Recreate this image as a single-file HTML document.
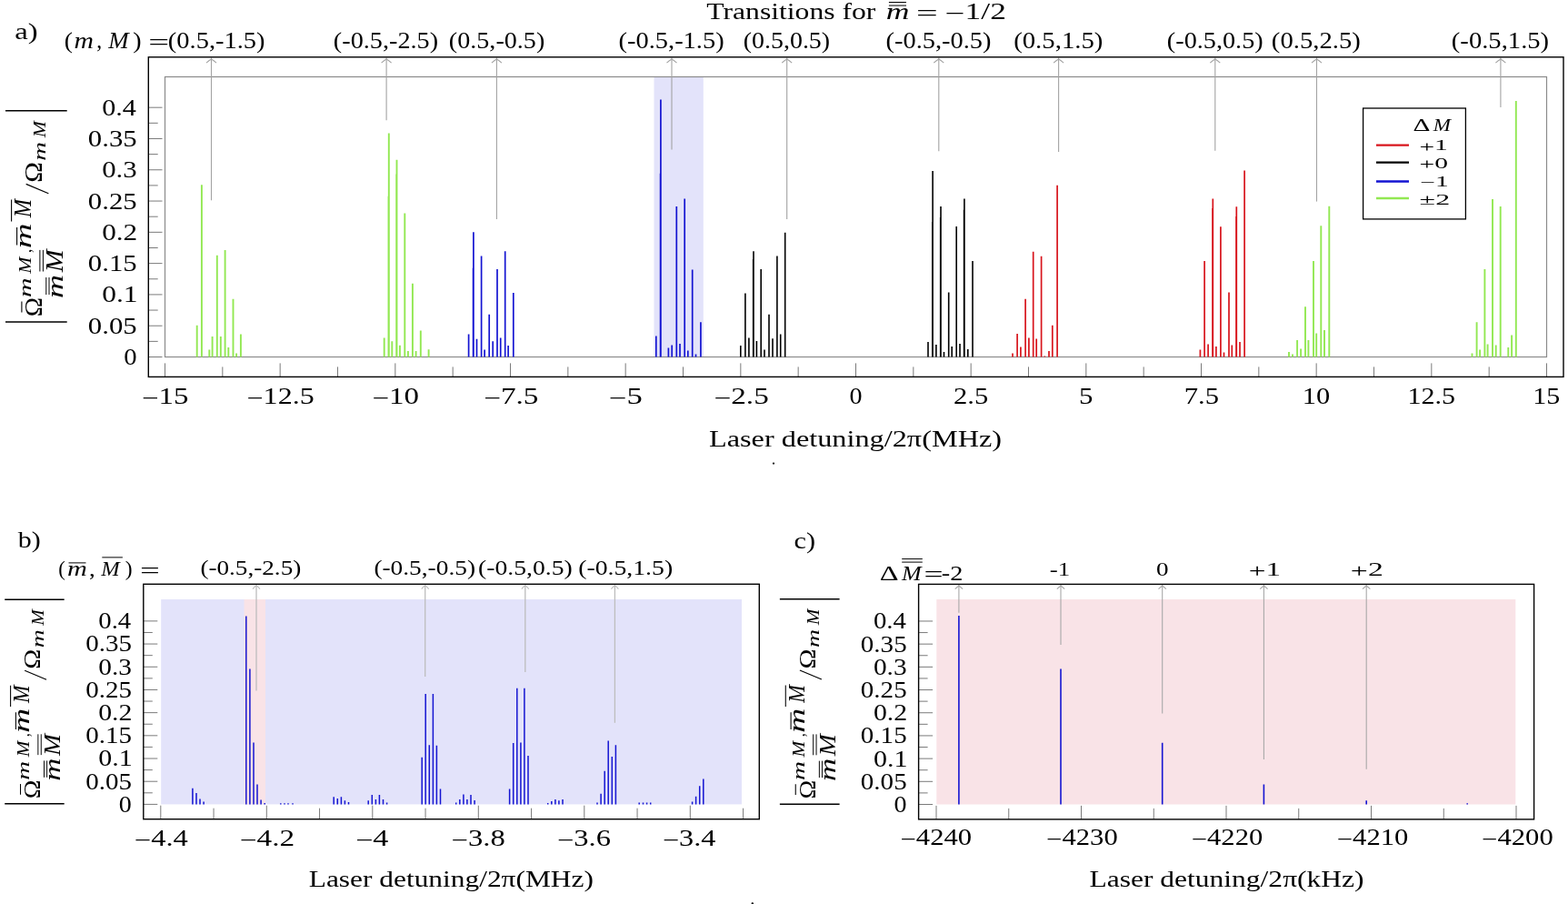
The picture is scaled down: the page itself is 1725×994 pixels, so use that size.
<!DOCTYPE html>
<html><head><meta charset="utf-8"><title>Transitions</title><style>html,body{margin:0;padding:0;background:#fff;overflow:hidden}svg{display:block}text{font-family:"Liberation Serif","DejaVu Serif",serif;fill:#000}</style></head><body>
<svg width="1725" height="994" viewBox="0 0 1725 994">
<rect width="1725" height="994" fill="#fff"/>
<rect x="719.50" y="84.50" width="54.30" height="308.00" fill="#e3e3fa" stroke="none" stroke-width="1.0"/>
<rect x="181.50" y="84.50" width="1520.00" height="308.00" fill="none" stroke="#8a8a8a" stroke-width="1.2"/>
<line x1="163.30" y1="392.50" x2="178.50" y2="392.50" stroke="#7a7a7a" stroke-width="1.0"/>
<line x1="163.30" y1="358.21" x2="178.50" y2="358.21" stroke="#7a7a7a" stroke-width="1.0"/>
<line x1="163.30" y1="323.92" x2="178.50" y2="323.92" stroke="#7a7a7a" stroke-width="1.0"/>
<line x1="163.30" y1="289.63" x2="178.50" y2="289.63" stroke="#7a7a7a" stroke-width="1.0"/>
<line x1="163.30" y1="255.34" x2="178.50" y2="255.34" stroke="#7a7a7a" stroke-width="1.0"/>
<line x1="163.30" y1="221.05" x2="178.50" y2="221.05" stroke="#7a7a7a" stroke-width="1.0"/>
<line x1="163.30" y1="186.76" x2="178.50" y2="186.76" stroke="#7a7a7a" stroke-width="1.0"/>
<line x1="163.30" y1="152.47" x2="178.50" y2="152.47" stroke="#7a7a7a" stroke-width="1.0"/>
<line x1="163.30" y1="118.18" x2="178.50" y2="118.18" stroke="#7a7a7a" stroke-width="1.0"/>
<line x1="163.30" y1="375.36" x2="173.70" y2="375.36" stroke="#7a7a7a" stroke-width="1.0"/>
<line x1="163.30" y1="341.06" x2="173.70" y2="341.06" stroke="#7a7a7a" stroke-width="1.0"/>
<line x1="163.30" y1="306.77" x2="173.70" y2="306.77" stroke="#7a7a7a" stroke-width="1.0"/>
<line x1="163.30" y1="272.49" x2="173.70" y2="272.49" stroke="#7a7a7a" stroke-width="1.0"/>
<line x1="163.30" y1="238.19" x2="173.70" y2="238.19" stroke="#7a7a7a" stroke-width="1.0"/>
<line x1="163.30" y1="203.91" x2="173.70" y2="203.91" stroke="#7a7a7a" stroke-width="1.0"/>
<line x1="163.30" y1="169.61" x2="173.70" y2="169.61" stroke="#7a7a7a" stroke-width="1.0"/>
<line x1="163.30" y1="135.32" x2="173.70" y2="135.32" stroke="#7a7a7a" stroke-width="1.0"/>
<line x1="181.50" y1="414.40" x2="181.50" y2="399.40" stroke="#7a7a7a" stroke-width="1.0"/>
<line x1="308.17" y1="414.40" x2="308.17" y2="399.40" stroke="#7a7a7a" stroke-width="1.0"/>
<line x1="434.84" y1="414.40" x2="434.84" y2="399.40" stroke="#7a7a7a" stroke-width="1.0"/>
<line x1="561.50" y1="414.40" x2="561.50" y2="399.40" stroke="#7a7a7a" stroke-width="1.0"/>
<line x1="688.17" y1="414.40" x2="688.17" y2="399.40" stroke="#7a7a7a" stroke-width="1.0"/>
<line x1="814.84" y1="414.40" x2="814.84" y2="399.40" stroke="#7a7a7a" stroke-width="1.0"/>
<line x1="941.50" y1="414.40" x2="941.50" y2="399.40" stroke="#7a7a7a" stroke-width="1.0"/>
<line x1="1068.17" y1="414.40" x2="1068.17" y2="399.40" stroke="#7a7a7a" stroke-width="1.0"/>
<line x1="1194.84" y1="414.40" x2="1194.84" y2="399.40" stroke="#7a7a7a" stroke-width="1.0"/>
<line x1="1321.51" y1="414.40" x2="1321.51" y2="399.40" stroke="#7a7a7a" stroke-width="1.0"/>
<line x1="1448.17" y1="414.40" x2="1448.17" y2="399.40" stroke="#7a7a7a" stroke-width="1.0"/>
<line x1="1574.84" y1="414.40" x2="1574.84" y2="399.40" stroke="#7a7a7a" stroke-width="1.0"/>
<line x1="1701.51" y1="414.40" x2="1701.51" y2="399.40" stroke="#7a7a7a" stroke-width="1.0"/>
<line x1="244.83" y1="414.40" x2="244.83" y2="403.40" stroke="#7a7a7a" stroke-width="1.0"/>
<line x1="371.50" y1="414.40" x2="371.50" y2="403.40" stroke="#7a7a7a" stroke-width="1.0"/>
<line x1="498.17" y1="414.40" x2="498.17" y2="403.40" stroke="#7a7a7a" stroke-width="1.0"/>
<line x1="624.84" y1="414.40" x2="624.84" y2="403.40" stroke="#7a7a7a" stroke-width="1.0"/>
<line x1="751.50" y1="414.40" x2="751.50" y2="403.40" stroke="#7a7a7a" stroke-width="1.0"/>
<line x1="878.17" y1="414.40" x2="878.17" y2="403.40" stroke="#7a7a7a" stroke-width="1.0"/>
<line x1="1004.84" y1="414.40" x2="1004.84" y2="403.40" stroke="#7a7a7a" stroke-width="1.0"/>
<line x1="1131.51" y1="414.40" x2="1131.51" y2="403.40" stroke="#7a7a7a" stroke-width="1.0"/>
<line x1="1258.17" y1="414.40" x2="1258.17" y2="403.40" stroke="#7a7a7a" stroke-width="1.0"/>
<line x1="1384.84" y1="414.40" x2="1384.84" y2="403.40" stroke="#7a7a7a" stroke-width="1.0"/>
<line x1="1511.51" y1="414.40" x2="1511.51" y2="403.40" stroke="#7a7a7a" stroke-width="1.0"/>
<line x1="1638.18" y1="414.40" x2="1638.18" y2="403.40" stroke="#7a7a7a" stroke-width="1.0"/>
<path d="M216.70 392.50V357.80 M221.90 392.50V203.20 M230.30 392.50V384.40 M233.60 392.50V369.90 M238.80 392.50V280.70 M242.80 392.50V369.90 M247.60 392.50V275.00 M251.30 392.50V382.00 M256.50 392.50V328.80 M260.10 392.50V388.40 M264.90 392.50V367.50 M422.70 392.50V371.60 M427.80 392.50V146.50 M427.50 392.50V215.70 M431.30 392.50V375.20 M436.50 392.50V175.80 M436.20 392.50V191.60 M439.90 392.50V379.70 M445.30 392.50V234.60 M448.90 392.50V386.00 M453.90 392.50V311.80 M457.60 392.50V386.00 M462.80 392.50V363.40 M471.60 392.50V384.30 M1418.00 392.50V387.00 M1422.00 392.50V389.50 M1427.10 392.50V374.00 M1431.10 392.50V383.50 M1436.00 392.50V337.20 M1439.40 392.50V374.00 M1445.00 392.50V287.00 M1448.20 392.50V366.40 M1453.30 392.50V248.30 M1457.00 392.50V362.90 M1462.30 392.50V226.70 M1619.50 392.50V388.50 M1624.60 392.50V354.30 M1628.10 392.50V384.50 M1633.40 392.50V296.00 M1636.60 392.50V378.50 M1642.00 392.50V219.00 M1645.70 392.50V379.50 M1650.70 392.50V227.10 M1659.30 392.50V382.00 M1663.10 392.50V368.40 M1667.80 392.50V110.90" stroke="#92e852" stroke-width="1.9" fill="none"/>
<path d="M515.60 392.50V367.50 M520.90 392.50V255.30 M520.60 392.50V294.70 M524.50 392.50V372.70 M529.60 392.50V281.50 M533.10 392.50V384.40 M538.20 392.50V345.80 M542.20 392.50V375.20 M547.00 392.50V296.00 M550.70 392.50V371.50 M555.70 392.50V276.20 M559.10 392.50V380.00 M564.80 392.50V322.00 M721.80 392.50V369.40 M726.90 392.50V109.60 M726.60 392.50V190.80 M735.40 392.50V382.50 M739.20 392.50V379.50 M744.30 392.50V227.10 M748.00 392.50V378.00 M753.20 392.50V218.60 M756.80 392.50V385.50 M761.70 392.50V296.50 M765.50 392.50V389.50 M770.90 392.50V354.30" stroke="#1414d2" stroke-width="1.7" fill="none"/>
<path d="M814.80 392.50V380.00 M819.90 392.50V322.40 M823.90 392.50V371.50 M829.00 392.50V276.20 M828.70 392.50V285.00 M832.40 392.50V375.10 M837.20 392.50V295.90 M841.00 392.50V384.40 M846.00 392.50V345.70 M850.00 392.50V372.30 M854.90 392.50V281.40 M858.70 392.50V367.50 M863.70 392.50V255.70 M1021.00 392.50V376.00 M1026.10 392.50V187.90 M1025.80 392.50V244.00 M1029.90 392.50V379.00 M1035.00 392.50V227.10 M1034.70 392.50V239.00 M1038.50 392.50V387.00 M1043.70 392.50V321.60 M1047.20 392.50V381.00 M1052.20 392.50V249.10 M1056.00 392.50V378.00 M1060.90 392.50V218.60 M1060.60 392.50V230.70 M1064.80 392.50V384.00 M1070.00 392.50V286.90" stroke="#000" stroke-width="1.6" fill="none"/>
<path d="M1114.00 392.50V388.50 M1119.10 392.50V366.90 M1122.90 392.50V381.50 M1128.10 392.50V328.70 M1131.90 392.50V371.40 M1136.70 392.50V276.80 M1140.20 392.50V372.40 M1145.60 392.50V281.80 M1149.30 392.50V391.50 M1154.00 392.50V386.00 M1157.80 392.50V357.80 M1163.10 392.50V203.80 M1320.40 392.50V384.50 M1325.10 392.50V287.00 M1329.10 392.50V378.50 M1334.30 392.50V218.60 M1334.00 392.50V229.00 M1337.90 392.50V381.00 M1342.90 392.50V249.30 M1346.50 392.50V387.50 M1352.00 392.50V321.60 M1355.30 392.50V379.50 M1360.30 392.50V227.20 M1360.00 392.50V238.00 M1364.00 392.50V376.00 M1369.10 392.50V187.40" stroke="#d8141c" stroke-width="1.7" fill="none"/>
<path d="M232.50 220.30V63.40" stroke="#a3a3a3" stroke-width="1.1" fill="none"/>
<path d="M227.00 69.10Q230.57 65.74 232.50 64.90Q234.43 65.74 238.00 69.10" stroke="#a3a3a3" stroke-width="1.1" fill="none"/>
<path d="M425.10 132.20V63.40" stroke="#a3a3a3" stroke-width="1.1" fill="none"/>
<path d="M419.60 69.10Q423.18 65.74 425.10 64.90Q427.03 65.74 430.60 69.10" stroke="#a3a3a3" stroke-width="1.1" fill="none"/>
<path d="M546.40 241.00V63.40" stroke="#a3a3a3" stroke-width="1.1" fill="none"/>
<path d="M540.90 69.10Q544.48 65.74 546.40 64.90Q548.32 65.74 551.90 69.10" stroke="#a3a3a3" stroke-width="1.1" fill="none"/>
<path d="M739.00 164.50V63.40" stroke="#a3a3a3" stroke-width="1.1" fill="none"/>
<path d="M733.50 69.10Q737.08 65.74 739.00 64.90Q740.92 65.74 744.50 69.10" stroke="#a3a3a3" stroke-width="1.1" fill="none"/>
<path d="M865.70 241.00V63.40" stroke="#a3a3a3" stroke-width="1.1" fill="none"/>
<path d="M860.20 69.10Q863.78 65.74 865.70 64.90Q867.62 65.74 871.20 69.10" stroke="#a3a3a3" stroke-width="1.1" fill="none"/>
<path d="M1032.80 166.30V63.40" stroke="#a3a3a3" stroke-width="1.1" fill="none"/>
<path d="M1027.30 69.10Q1030.88 65.74 1032.80 64.90Q1034.72 65.74 1038.30 69.10" stroke="#a3a3a3" stroke-width="1.1" fill="none"/>
<path d="M1164.60 167.00V63.40" stroke="#a3a3a3" stroke-width="1.1" fill="none"/>
<path d="M1159.10 69.10Q1162.67 65.74 1164.60 64.90Q1166.52 65.74 1170.10 69.10" stroke="#a3a3a3" stroke-width="1.1" fill="none"/>
<path d="M1336.80 165.80V63.40" stroke="#a3a3a3" stroke-width="1.1" fill="none"/>
<path d="M1331.30 69.10Q1334.88 65.74 1336.80 64.90Q1338.72 65.74 1342.30 69.10" stroke="#a3a3a3" stroke-width="1.1" fill="none"/>
<path d="M1448.50 221.60V63.40" stroke="#a3a3a3" stroke-width="1.1" fill="none"/>
<path d="M1443.00 69.10Q1446.58 65.74 1448.50 64.90Q1450.42 65.74 1454.00 69.10" stroke="#a3a3a3" stroke-width="1.1" fill="none"/>
<path d="M1650.90 118.10V63.40" stroke="#a3a3a3" stroke-width="1.1" fill="none"/>
<path d="M1645.40 69.10Q1648.98 65.74 1650.90 64.90Q1652.83 65.74 1656.40 69.10" stroke="#a3a3a3" stroke-width="1.1" fill="none"/>
<rect x="163.30" y="62.80" width="1556.70" height="351.60" fill="none" stroke="#000" stroke-width="1.4"/>
<rect x="1499.60" y="119.00" width="112.80" height="121.90" fill="#fff" stroke="#000" stroke-width="1.3"/>
<line x1="1514.00" y1="159.60" x2="1550.00" y2="159.60" stroke="#d8141c" stroke-width="2.3"/>
<line x1="1514.00" y1="178.60" x2="1550.00" y2="178.60" stroke="#000" stroke-width="2.3"/>
<line x1="1514.00" y1="199.50" x2="1550.00" y2="199.50" stroke="#1414d2" stroke-width="2.3"/>
<line x1="1514.00" y1="218.00" x2="1550.00" y2="218.00" stroke="#92e852" stroke-width="2.3"/>
<text x="1554.64" y="144.30" font-size="19.40" textLength="19.00" lengthAdjust="spacingAndGlyphs">Δ</text>
<text x="1576.88" y="144.30" font-size="19.40" textLength="19.24" lengthAdjust="spacingAndGlyphs" font-style="italic">M</text>
<text x="1561.48" y="165.20" font-size="15.80" textLength="31.39" lengthAdjust="spacingAndGlyphs"><tspan dy="1.30">+</tspan><tspan dy="-1.30">1</tspan></text>
<text x="1561.48" y="184.70" font-size="15.80" textLength="31.49" lengthAdjust="spacingAndGlyphs"><tspan dy="1.30">+</tspan><tspan dy="-1.30">0</tspan></text>
<text x="1562.28" y="204.70" font-size="15.80" textLength="31.39" lengthAdjust="spacingAndGlyphs"><tspan dy="1.30">−</tspan><tspan dy="-1.30">1</tspan></text>
<text x="1561.62" y="224.80" font-size="15.80" textLength="33.54" lengthAdjust="spacingAndGlyphs">±2</text>
<text x="777.29" y="21.30" font-size="25.20" textLength="186.06" lengthAdjust="spacingAndGlyphs">Transitions for</text>
<text x="974.72" y="21.20" font-size="25.20" textLength="25.74" lengthAdjust="spacingAndGlyphs" font-style="italic">m</text>
<line x1="977.90" y1="2.50" x2="997.00" y2="2.50" stroke="#000" stroke-width="1.0"/>
<line x1="977.90" y1="6.10" x2="997.00" y2="6.10" stroke="#000" stroke-width="1.0"/>
<text x="1007.98" y="21.20" font-size="25.20" textLength="23.74" lengthAdjust="spacingAndGlyphs"><tspan dy="2.07">=</tspan></text>
<text x="1039.63" y="21.20" font-size="25.20" textLength="21.93" lengthAdjust="spacingAndGlyphs"><tspan dy="2.07">−</tspan></text>
<text x="1061.63" y="21.20" font-size="25.20" textLength="45.21" lengthAdjust="spacingAndGlyphs">1/2</text>
<text x="16.15" y="43.00" font-size="25.00" textLength="25.39" lengthAdjust="spacingAndGlyphs">a)</text>
<text x="70.89" y="52.80" font-size="24.50" textLength="9.21" lengthAdjust="spacingAndGlyphs">(</text>
<text x="81.43" y="52.80" font-size="24.50" textLength="21.51" lengthAdjust="spacingAndGlyphs" font-style="italic">m</text>
<text x="106.15" y="52.80" font-size="24.50" textLength="5.92" lengthAdjust="spacingAndGlyphs">,</text>
<text x="119.32" y="52.80" font-size="24.50" textLength="22.41" lengthAdjust="spacingAndGlyphs" font-style="italic">M</text>
<text x="146.30" y="52.80" font-size="24.50" textLength="9.35" lengthAdjust="spacingAndGlyphs">)</text>
<text x="163.35" y="52.80" font-size="24.50" textLength="22.90" lengthAdjust="spacingAndGlyphs"><tspan dy="2.01">=</tspan></text>
<text x="184.86" y="52.80" font-size="24.50" textLength="106.71" lengthAdjust="spacingAndGlyphs">(0.5,-1.5)</text>
<text x="366.87" y="52.80" font-size="24.50" textLength="115.29" lengthAdjust="spacingAndGlyphs">(-0.5,-2.5)</text>
<text x="493.88" y="52.80" font-size="24.50" textLength="105.38" lengthAdjust="spacingAndGlyphs">(0.5,-0.5)</text>
<text x="680.56" y="52.80" font-size="24.50" textLength="116.10" lengthAdjust="spacingAndGlyphs">(-0.5,-1.5)</text>
<text x="817.78" y="52.80" font-size="24.50" textLength="95.36" lengthAdjust="spacingAndGlyphs">(0.5,0.5)</text>
<text x="974.56" y="52.80" font-size="24.50" textLength="116.00" lengthAdjust="spacingAndGlyphs">(-0.5,-0.5)</text>
<text x="1115.15" y="52.80" font-size="24.50" textLength="98.33" lengthAdjust="spacingAndGlyphs">(0.5,1.5)</text>
<text x="1283.87" y="52.80" font-size="24.50" textLength="105.79" lengthAdjust="spacingAndGlyphs">(-0.5,0.5)</text>
<text x="1398.85" y="52.80" font-size="24.50" textLength="97.92" lengthAdjust="spacingAndGlyphs">(0.5,2.5)</text>
<text x="1596.85" y="52.80" font-size="24.50" textLength="107.32" lengthAdjust="spacingAndGlyphs">(-0.5,1.5)</text>
<text x="155.92" y="444.30" font-size="25.00" textLength="51.46" lengthAdjust="spacingAndGlyphs"><tspan dy="2.05">−</tspan><tspan dy="-2.05">15</tspan></text>
<text x="271.56" y="444.30" font-size="25.00" textLength="74.09" lengthAdjust="spacingAndGlyphs"><tspan dy="2.05">−</tspan><tspan dy="-2.05">12.5</tspan></text>
<text x="409.42" y="444.30" font-size="25.00" textLength="51.57" lengthAdjust="spacingAndGlyphs"><tspan dy="2.05">−</tspan><tspan dy="-2.05">10</tspan></text>
<text x="532.20" y="444.30" font-size="25.00" textLength="60.29" lengthAdjust="spacingAndGlyphs"><tspan dy="2.05">−</tspan><tspan dy="-2.05">7.5</tspan></text>
<text x="669.83" y="444.30" font-size="25.00" textLength="36.91" lengthAdjust="spacingAndGlyphs"><tspan dy="2.05">−</tspan><tspan dy="-2.05">5</tspan></text>
<text x="785.50" y="444.30" font-size="25.00" textLength="60.29" lengthAdjust="spacingAndGlyphs"><tspan dy="2.05">−</tspan><tspan dy="-2.05">2.5</tspan></text>
<text x="934.49" y="444.30" font-size="25.00" textLength="14.02" lengthAdjust="spacingAndGlyphs">0</text>
<text x="1048.98" y="444.30" font-size="25.00" textLength="38.22" lengthAdjust="spacingAndGlyphs">2.5</text>
<text x="1187.07" y="444.30" font-size="25.00" textLength="15.44" lengthAdjust="spacingAndGlyphs">5</text>
<text x="1302.74" y="444.30" font-size="25.00" textLength="38.26" lengthAdjust="spacingAndGlyphs">7.5</text>
<text x="1432.74" y="444.30" font-size="25.00" textLength="30.45" lengthAdjust="spacingAndGlyphs">10</text>
<text x="1548.58" y="444.30" font-size="25.00" textLength="52.50" lengthAdjust="spacingAndGlyphs">12.5</text>
<text x="1686.28" y="444.30" font-size="25.00" textLength="30.00" lengthAdjust="spacingAndGlyphs">15</text>
<text x="136.27" y="401.00" font-size="24.30" textLength="14.37" lengthAdjust="spacingAndGlyphs">0</text>
<text x="96.89" y="366.71" font-size="24.30" textLength="53.81" lengthAdjust="spacingAndGlyphs">0.05</text>
<text x="112.17" y="332.42" font-size="24.30" textLength="39.32" lengthAdjust="spacingAndGlyphs">0.1</text>
<text x="96.89" y="298.13" font-size="24.30" textLength="53.81" lengthAdjust="spacingAndGlyphs">0.15</text>
<text x="112.18" y="263.84" font-size="24.30" textLength="39.05" lengthAdjust="spacingAndGlyphs">0.2</text>
<text x="96.89" y="229.55" font-size="24.30" textLength="53.81" lengthAdjust="spacingAndGlyphs">0.25</text>
<text x="112.19" y="195.26" font-size="24.30" textLength="38.52" lengthAdjust="spacingAndGlyphs">0.3</text>
<text x="96.89" y="160.97" font-size="24.30" textLength="53.81" lengthAdjust="spacingAndGlyphs">0.35</text>
<text x="112.21" y="126.68" font-size="24.30" textLength="37.75" lengthAdjust="spacingAndGlyphs">0.4</text>
<text x="780.00" y="491.20" font-size="24.80" textLength="322.03" lengthAdjust="spacingAndGlyphs">Laser detuning/2π(MHz)</text>
<circle cx="851" cy="509.6" r="1.1" fill="#000"/>
<g transform="translate(46.00,354.00) rotate(-90) scale(1.0000)">
<line x1="0.00" y1="-40.00" x2="0.00" y2="27.70" stroke="#000" stroke-width="1.4"/>
<line x1="232.20" y1="-40.00" x2="232.20" y2="27.70" stroke="#000" stroke-width="1.4"/>
<text x="5.82" y="0.00" font-size="26.50" textLength="21.35" lengthAdjust="spacingAndGlyphs">Ω</text>
<line x1="10.40" y1="-22.10" x2="22.50" y2="-22.10" stroke="#000" stroke-width="1.1"/>
<text x="27.02" y="-12.30" font-size="18.70" textLength="21.62" lengthAdjust="spacingAndGlyphs" font-style="italic">m</text>
<text x="53.26" y="-12.30" font-size="19.00" textLength="18.21" lengthAdjust="spacingAndGlyphs" font-style="italic">M</text>
<text x="76.08" y="-12.30" font-size="19.00" textLength="4.28" lengthAdjust="spacingAndGlyphs">,</text>
<text x="80.81" y="-12.30" font-size="25.40" textLength="27.86" lengthAdjust="spacingAndGlyphs" font-style="italic">m</text>
<line x1="84.60" y1="-27.40" x2="104.00" y2="-27.40" stroke="#000" stroke-width="1.1"/>
<text x="114.69" y="-12.30" font-size="27.00" textLength="20.26" lengthAdjust="spacingAndGlyphs" font-style="italic">M</text>
<line x1="110.40" y1="-33.40" x2="134.50" y2="-33.40" stroke="#000" stroke-width="1.1"/>
<text x="26.00" y="23.00" font-size="25.00" textLength="26.08" lengthAdjust="spacingAndGlyphs" font-style="italic">m</text>
<line x1="30.00" y1="4.80" x2="49.00" y2="4.80" stroke="#000" stroke-width="1.0"/>
<line x1="30.00" y1="8.00" x2="49.00" y2="8.00" stroke="#000" stroke-width="1.0"/>
<text x="54.66" y="23.00" font-size="27.00" textLength="24.84" lengthAdjust="spacingAndGlyphs" font-style="italic">M</text>
<line x1="55.50" y1="-2.10" x2="79.10" y2="-2.10" stroke="#000" stroke-width="1.0"/>
<line x1="55.50" y1="1.40" x2="79.10" y2="1.40" stroke="#000" stroke-width="1.0"/>
<line x1="141.30" y1="7.40" x2="151.60" y2="-17.30" stroke="#000" stroke-width="1.2"/>
<text x="153.23" y="0.00" font-size="26.50" textLength="22.73" lengthAdjust="spacingAndGlyphs">Ω</text>
<text x="177.37" y="4.00" font-size="19.00" textLength="20.73" lengthAdjust="spacingAndGlyphs" font-style="italic">m</text>
<text x="202.86" y="4.00" font-size="19.00" textLength="18.12" lengthAdjust="spacingAndGlyphs" font-style="italic">M</text>
</g>
<g transform="translate(43.90,883.80) rotate(-90) scale(0.9670)">
<line x1="0.00" y1="-40.00" x2="0.00" y2="27.70" stroke="#000" stroke-width="1.4"/>
<line x1="232.20" y1="-40.00" x2="232.20" y2="27.70" stroke="#000" stroke-width="1.4"/>
<text x="5.82" y="0.00" font-size="26.50" textLength="21.35" lengthAdjust="spacingAndGlyphs">Ω</text>
<line x1="10.40" y1="-22.10" x2="22.50" y2="-22.10" stroke="#000" stroke-width="1.1"/>
<text x="27.02" y="-12.30" font-size="18.70" textLength="21.62" lengthAdjust="spacingAndGlyphs" font-style="italic">m</text>
<text x="53.26" y="-12.30" font-size="19.00" textLength="18.21" lengthAdjust="spacingAndGlyphs" font-style="italic">M</text>
<text x="76.08" y="-12.30" font-size="19.00" textLength="4.28" lengthAdjust="spacingAndGlyphs">,</text>
<text x="80.81" y="-12.30" font-size="25.40" textLength="27.86" lengthAdjust="spacingAndGlyphs" font-style="italic">m</text>
<line x1="84.60" y1="-27.40" x2="104.00" y2="-27.40" stroke="#000" stroke-width="1.1"/>
<text x="114.69" y="-12.30" font-size="27.00" textLength="20.26" lengthAdjust="spacingAndGlyphs" font-style="italic">M</text>
<line x1="110.40" y1="-33.40" x2="134.50" y2="-33.40" stroke="#000" stroke-width="1.1"/>
<text x="26.00" y="23.00" font-size="25.00" textLength="26.08" lengthAdjust="spacingAndGlyphs" font-style="italic">m</text>
<line x1="30.00" y1="4.80" x2="49.00" y2="4.80" stroke="#000" stroke-width="1.0"/>
<line x1="30.00" y1="8.00" x2="49.00" y2="8.00" stroke="#000" stroke-width="1.0"/>
<text x="54.66" y="23.00" font-size="27.00" textLength="24.84" lengthAdjust="spacingAndGlyphs" font-style="italic">M</text>
<line x1="55.50" y1="-2.10" x2="79.10" y2="-2.10" stroke="#000" stroke-width="1.0"/>
<line x1="55.50" y1="1.40" x2="79.10" y2="1.40" stroke="#000" stroke-width="1.0"/>
<line x1="141.30" y1="7.40" x2="151.60" y2="-17.30" stroke="#000" stroke-width="1.2"/>
<text x="153.23" y="0.00" font-size="26.50" textLength="22.73" lengthAdjust="spacingAndGlyphs">Ω</text>
<text x="177.37" y="4.00" font-size="19.00" textLength="20.73" lengthAdjust="spacingAndGlyphs" font-style="italic">m</text>
<text x="202.86" y="4.00" font-size="19.00" textLength="18.12" lengthAdjust="spacingAndGlyphs" font-style="italic">M</text>
</g>
<g transform="translate(896.70,884.20) rotate(-90) scale(0.9710)">
<line x1="0.00" y1="-40.00" x2="0.00" y2="27.70" stroke="#000" stroke-width="1.4"/>
<line x1="232.20" y1="-40.00" x2="232.20" y2="27.70" stroke="#000" stroke-width="1.4"/>
<text x="5.82" y="0.00" font-size="26.50" textLength="21.35" lengthAdjust="spacingAndGlyphs">Ω</text>
<line x1="10.40" y1="-22.10" x2="22.50" y2="-22.10" stroke="#000" stroke-width="1.1"/>
<text x="27.02" y="-12.30" font-size="18.70" textLength="21.62" lengthAdjust="spacingAndGlyphs" font-style="italic">m</text>
<text x="53.26" y="-12.30" font-size="19.00" textLength="18.21" lengthAdjust="spacingAndGlyphs" font-style="italic">M</text>
<text x="76.08" y="-12.30" font-size="19.00" textLength="4.28" lengthAdjust="spacingAndGlyphs">,</text>
<text x="80.81" y="-12.30" font-size="25.40" textLength="27.86" lengthAdjust="spacingAndGlyphs" font-style="italic">m</text>
<line x1="84.60" y1="-27.40" x2="104.00" y2="-27.40" stroke="#000" stroke-width="1.1"/>
<text x="114.69" y="-12.30" font-size="27.00" textLength="20.26" lengthAdjust="spacingAndGlyphs" font-style="italic">M</text>
<line x1="110.40" y1="-33.40" x2="134.50" y2="-33.40" stroke="#000" stroke-width="1.1"/>
<text x="26.00" y="23.00" font-size="25.00" textLength="26.08" lengthAdjust="spacingAndGlyphs" font-style="italic">m</text>
<line x1="30.00" y1="4.80" x2="49.00" y2="4.80" stroke="#000" stroke-width="1.0"/>
<line x1="30.00" y1="8.00" x2="49.00" y2="8.00" stroke="#000" stroke-width="1.0"/>
<text x="54.66" y="23.00" font-size="27.00" textLength="24.84" lengthAdjust="spacingAndGlyphs" font-style="italic">M</text>
<line x1="55.50" y1="-2.10" x2="79.10" y2="-2.10" stroke="#000" stroke-width="1.0"/>
<line x1="55.50" y1="1.40" x2="79.10" y2="1.40" stroke="#000" stroke-width="1.0"/>
<line x1="141.30" y1="7.40" x2="151.60" y2="-17.30" stroke="#000" stroke-width="1.2"/>
<text x="153.23" y="0.00" font-size="26.50" textLength="22.73" lengthAdjust="spacingAndGlyphs">Ω</text>
<text x="177.37" y="4.00" font-size="19.00" textLength="20.73" lengthAdjust="spacingAndGlyphs" font-style="italic">m</text>
<text x="202.86" y="4.00" font-size="19.00" textLength="18.12" lengthAdjust="spacingAndGlyphs" font-style="italic">M</text>
</g>
<rect x="177.20" y="659.00" width="638.80" height="225.40" fill="#e3e3fa" stroke="none" stroke-width="1.0"/>
<rect x="268.50" y="659.00" width="23.50" height="225.40" fill="#f9e3e7" stroke="none" stroke-width="1.0"/>
<line x1="157.80" y1="884.40" x2="173.30" y2="884.40" stroke="#7a7a7a" stroke-width="1.0"/>
<line x1="157.80" y1="859.21" x2="173.30" y2="859.21" stroke="#7a7a7a" stroke-width="1.0"/>
<line x1="157.80" y1="834.02" x2="173.30" y2="834.02" stroke="#7a7a7a" stroke-width="1.0"/>
<line x1="157.80" y1="808.83" x2="173.30" y2="808.83" stroke="#7a7a7a" stroke-width="1.0"/>
<line x1="157.80" y1="783.64" x2="173.30" y2="783.64" stroke="#7a7a7a" stroke-width="1.0"/>
<line x1="157.80" y1="758.45" x2="173.30" y2="758.45" stroke="#7a7a7a" stroke-width="1.0"/>
<line x1="157.80" y1="733.26" x2="173.30" y2="733.26" stroke="#7a7a7a" stroke-width="1.0"/>
<line x1="157.80" y1="708.07" x2="173.30" y2="708.07" stroke="#7a7a7a" stroke-width="1.0"/>
<line x1="157.80" y1="682.88" x2="173.30" y2="682.88" stroke="#7a7a7a" stroke-width="1.0"/>
<line x1="157.80" y1="871.80" x2="167.80" y2="871.80" stroke="#7a7a7a" stroke-width="1.0"/>
<line x1="157.80" y1="846.62" x2="167.80" y2="846.62" stroke="#7a7a7a" stroke-width="1.0"/>
<line x1="157.80" y1="821.42" x2="167.80" y2="821.42" stroke="#7a7a7a" stroke-width="1.0"/>
<line x1="157.80" y1="796.24" x2="167.80" y2="796.24" stroke="#7a7a7a" stroke-width="1.0"/>
<line x1="157.80" y1="771.04" x2="167.80" y2="771.04" stroke="#7a7a7a" stroke-width="1.0"/>
<line x1="157.80" y1="745.86" x2="167.80" y2="745.86" stroke="#7a7a7a" stroke-width="1.0"/>
<line x1="157.80" y1="720.66" x2="167.80" y2="720.66" stroke="#7a7a7a" stroke-width="1.0"/>
<line x1="157.80" y1="695.47" x2="167.80" y2="695.47" stroke="#7a7a7a" stroke-width="1.0"/>
<line x1="176.80" y1="900.70" x2="176.80" y2="885.70" stroke="#7a7a7a" stroke-width="1.0"/>
<line x1="235.05" y1="900.70" x2="235.05" y2="888.70" stroke="#7a7a7a" stroke-width="1.0"/>
<line x1="293.30" y1="900.70" x2="293.30" y2="885.70" stroke="#7a7a7a" stroke-width="1.0"/>
<line x1="351.55" y1="900.70" x2="351.55" y2="888.70" stroke="#7a7a7a" stroke-width="1.0"/>
<line x1="409.80" y1="900.70" x2="409.80" y2="885.70" stroke="#7a7a7a" stroke-width="1.0"/>
<line x1="468.05" y1="900.70" x2="468.05" y2="888.70" stroke="#7a7a7a" stroke-width="1.0"/>
<line x1="526.30" y1="900.70" x2="526.30" y2="885.70" stroke="#7a7a7a" stroke-width="1.0"/>
<line x1="584.55" y1="900.70" x2="584.55" y2="888.70" stroke="#7a7a7a" stroke-width="1.0"/>
<line x1="642.80" y1="900.70" x2="642.80" y2="885.70" stroke="#7a7a7a" stroke-width="1.0"/>
<line x1="701.05" y1="900.70" x2="701.05" y2="888.70" stroke="#7a7a7a" stroke-width="1.0"/>
<line x1="759.30" y1="900.70" x2="759.30" y2="885.70" stroke="#7a7a7a" stroke-width="1.0"/>
<line x1="817.55" y1="900.70" x2="817.55" y2="888.70" stroke="#7a7a7a" stroke-width="1.0"/>
<path d="M211.90 884.40V866.70 M216.00 884.40V872.10 M220.00 884.40V878.40 M224.10 884.40V881.60 M270.80 884.40V677.50 M274.90 884.40V735.60 M279.00 884.40V816.50 M283.00 884.40V862.60 M287.10 884.40V879.50 M291.20 884.40V883.00 M308.80 884.40V883.20 M313.00 884.40V883.20 M317.00 884.40V883.20 M322.00 884.40V883.20 M367.20 884.40V876.20 M371.30 884.40V878.10 M375.40 884.40V876.20 M379.40 884.40V880.30 M383.50 884.40V882.00 M405.20 884.40V880.30 M409.30 884.40V874.00 M413.40 884.40V879.00 M417.40 884.40V874.00 M421.50 884.40V879.00 M425.60 884.40V882.50 M464.20 884.40V832.80 M468.20 884.40V763.00 M472.30 884.40V819.20 M476.40 884.40V763.00 M480.40 884.40V819.70 M484.50 884.40V867.50 M501.70 884.40V882.50 M505.80 884.40V879.00 M509.90 884.40V873.50 M513.90 884.40V879.00 M518.00 884.40V874.00 M522.10 884.40V880.00 M560.60 884.40V867.50 M564.70 884.40V817.00 M568.80 884.40V756.80 M572.90 884.40V816.50 M576.90 884.40V756.80 M581.00 884.40V830.90 M602.70 884.40V883.00 M606.80 884.40V881.10 M610.90 884.40V879.00 M614.90 884.40V880.30 M619.00 884.40V879.00 M657.00 884.40V882.50 M661.10 884.40V872.70 M665.20 884.40V847.70 M669.20 884.40V814.60 M673.30 884.40V832.00 M677.40 884.40V819.20 M703.20 884.40V882.50 M707.50 884.40V882.50 M711.60 884.40V882.50 M715.70 884.40V882.50 M761.60 884.40V881.60 M765.60 884.40V875.70 M769.70 884.40V864.30 M773.80 884.40V856.40" stroke="#1414d2" stroke-width="1.5" fill="none"/>
<path d="M282.00 759.50V642.30" stroke="#bdbdbd" stroke-width="1.3" fill="none"/>
<path d="M278.00 647.60Q280.60 644.56 282.00 643.80Q283.40 644.56 286.00 647.60" stroke="#bdbdbd" stroke-width="1.1" fill="none"/>
<path d="M467.70 744.00V642.30" stroke="#bdbdbd" stroke-width="1.3" fill="none"/>
<path d="M463.70 647.60Q466.30 644.56 467.70 643.80Q469.10 644.56 471.70 647.60" stroke="#bdbdbd" stroke-width="1.1" fill="none"/>
<path d="M577.80 739.10V642.30" stroke="#bdbdbd" stroke-width="1.3" fill="none"/>
<path d="M573.80 647.60Q576.40 644.56 577.80 643.80Q579.20 644.56 581.80 647.60" stroke="#bdbdbd" stroke-width="1.1" fill="none"/>
<path d="M676.40 794.80V642.30" stroke="#bdbdbd" stroke-width="1.3" fill="none"/>
<path d="M672.40 647.60Q675.00 644.56 676.40 643.80Q677.80 644.56 680.40 647.60" stroke="#bdbdbd" stroke-width="1.1" fill="none"/>
<rect x="157.80" y="642.30" width="677.50" height="258.40" fill="none" stroke="#000" stroke-width="1.4"/>
<text x="19.70" y="602.00" font-size="25.00" textLength="25.03" lengthAdjust="spacingAndGlyphs">b)</text>
<text x="64.29" y="633.00" font-size="24.00" textLength="7.57" lengthAdjust="spacingAndGlyphs">(</text>
<text x="73.91" y="633.00" font-size="24.00" textLength="21.84" lengthAdjust="spacingAndGlyphs" font-style="italic">m</text>
<line x1="75.50" y1="618.90" x2="94.50" y2="618.90" stroke="#000" stroke-width="1.0"/>
<text x="98.13" y="633.00" font-size="24.00" textLength="6.74" lengthAdjust="spacingAndGlyphs">,</text>
<text x="111.39" y="633.00" font-size="24.00" textLength="20.45" lengthAdjust="spacingAndGlyphs" font-style="italic">M</text>
<line x1="112.30" y1="612.90" x2="134.90" y2="612.90" stroke="#000" stroke-width="1.0"/>
<text x="137.85" y="633.00" font-size="24.00" textLength="7.81" lengthAdjust="spacingAndGlyphs">)</text>
<text x="154.14" y="633.00" font-size="24.00" textLength="21.81" lengthAdjust="spacingAndGlyphs"><tspan dy="1.97">=</tspan></text>
<text x="220.41" y="631.60" font-size="23.50" textLength="110.90" lengthAdjust="spacingAndGlyphs">(-0.5,-2.5)</text>
<text x="411.41" y="631.60" font-size="23.50" textLength="111.61" lengthAdjust="spacingAndGlyphs">(-0.5,-0.5)</text>
<text x="526.09" y="631.60" font-size="23.50" textLength="103.64" lengthAdjust="spacingAndGlyphs">(-0.5,0.5)</text>
<text x="636.29" y="631.60" font-size="23.50" textLength="103.84" lengthAdjust="spacingAndGlyphs">(-0.5,1.5)</text>
<text x="147.79" y="929.60" font-size="25.00" textLength="59.05" lengthAdjust="spacingAndGlyphs"><tspan dy="2.05">−</tspan><tspan dy="-2.05">4.4</tspan></text>
<text x="263.75" y="929.60" font-size="25.00" textLength="60.43" lengthAdjust="spacingAndGlyphs"><tspan dy="2.05">−</tspan><tspan dy="-2.05">4.2</tspan></text>
<text x="391.16" y="929.60" font-size="25.00" textLength="36.24" lengthAdjust="spacingAndGlyphs"><tspan dy="2.05">−</tspan><tspan dy="-2.05">4</tspan></text>
<text x="496.58" y="929.60" font-size="25.00" textLength="59.24" lengthAdjust="spacingAndGlyphs"><tspan dy="2.05">−</tspan><tspan dy="-2.05">3.8</tspan></text>
<text x="612.99" y="929.60" font-size="25.00" textLength="58.97" lengthAdjust="spacingAndGlyphs"><tspan dy="2.05">−</tspan><tspan dy="-2.05">3.6</tspan></text>
<text x="728.90" y="929.60" font-size="25.00" textLength="58.43" lengthAdjust="spacingAndGlyphs"><tspan dy="2.05">−</tspan><tspan dy="-2.05">3.4</tspan></text>
<text x="130.89" y="892.80" font-size="24.30" textLength="14.02" lengthAdjust="spacingAndGlyphs">0</text>
<text x="94.16" y="867.61" font-size="24.30" textLength="50.79" lengthAdjust="spacingAndGlyphs">0.05</text>
<text x="108.22" y="842.42" font-size="24.30" textLength="37.48" lengthAdjust="spacingAndGlyphs">0.1</text>
<text x="94.16" y="817.23" font-size="24.30" textLength="50.79" lengthAdjust="spacingAndGlyphs">0.15</text>
<text x="108.23" y="792.04" font-size="24.30" textLength="37.22" lengthAdjust="spacingAndGlyphs">0.2</text>
<text x="94.16" y="766.85" font-size="24.30" textLength="50.79" lengthAdjust="spacingAndGlyphs">0.25</text>
<text x="108.24" y="741.66" font-size="24.30" textLength="36.71" lengthAdjust="spacingAndGlyphs">0.3</text>
<text x="94.16" y="716.47" font-size="24.30" textLength="50.79" lengthAdjust="spacingAndGlyphs">0.35</text>
<text x="108.26" y="691.28" font-size="24.30" textLength="35.98" lengthAdjust="spacingAndGlyphs">0.4</text>
<text x="339.72" y="975.40" font-size="24.80" textLength="313.17" lengthAdjust="spacingAndGlyphs">Laser detuning/2π(MHz)</text>
<rect x="1030.30" y="659.00" width="637.00" height="225.50" fill="#f9e3e7" stroke="none" stroke-width="1.0"/>
<line x1="1010.60" y1="884.50" x2="1026.10" y2="884.50" stroke="#7a7a7a" stroke-width="1.0"/>
<line x1="1010.60" y1="859.31" x2="1026.10" y2="859.31" stroke="#7a7a7a" stroke-width="1.0"/>
<line x1="1010.60" y1="834.12" x2="1026.10" y2="834.12" stroke="#7a7a7a" stroke-width="1.0"/>
<line x1="1010.60" y1="808.93" x2="1026.10" y2="808.93" stroke="#7a7a7a" stroke-width="1.0"/>
<line x1="1010.60" y1="783.74" x2="1026.10" y2="783.74" stroke="#7a7a7a" stroke-width="1.0"/>
<line x1="1010.60" y1="758.55" x2="1026.10" y2="758.55" stroke="#7a7a7a" stroke-width="1.0"/>
<line x1="1010.60" y1="733.36" x2="1026.10" y2="733.36" stroke="#7a7a7a" stroke-width="1.0"/>
<line x1="1010.60" y1="708.17" x2="1026.10" y2="708.17" stroke="#7a7a7a" stroke-width="1.0"/>
<line x1="1010.60" y1="682.98" x2="1026.10" y2="682.98" stroke="#7a7a7a" stroke-width="1.0"/>
<line x1="1010.60" y1="871.90" x2="1020.60" y2="871.90" stroke="#7a7a7a" stroke-width="1.0"/>
<line x1="1010.60" y1="846.72" x2="1020.60" y2="846.72" stroke="#7a7a7a" stroke-width="1.0"/>
<line x1="1010.60" y1="821.52" x2="1020.60" y2="821.52" stroke="#7a7a7a" stroke-width="1.0"/>
<line x1="1010.60" y1="796.34" x2="1020.60" y2="796.34" stroke="#7a7a7a" stroke-width="1.0"/>
<line x1="1010.60" y1="771.14" x2="1020.60" y2="771.14" stroke="#7a7a7a" stroke-width="1.0"/>
<line x1="1010.60" y1="745.95" x2="1020.60" y2="745.95" stroke="#7a7a7a" stroke-width="1.0"/>
<line x1="1010.60" y1="720.76" x2="1020.60" y2="720.76" stroke="#7a7a7a" stroke-width="1.0"/>
<line x1="1010.60" y1="695.57" x2="1020.60" y2="695.57" stroke="#7a7a7a" stroke-width="1.0"/>
<line x1="1030.00" y1="900.90" x2="1030.00" y2="885.90" stroke="#7a7a7a" stroke-width="1.0"/>
<line x1="1109.75" y1="900.90" x2="1109.75" y2="888.90" stroke="#7a7a7a" stroke-width="1.0"/>
<line x1="1189.50" y1="900.90" x2="1189.50" y2="885.90" stroke="#7a7a7a" stroke-width="1.0"/>
<line x1="1269.25" y1="900.90" x2="1269.25" y2="888.90" stroke="#7a7a7a" stroke-width="1.0"/>
<line x1="1349.00" y1="900.90" x2="1349.00" y2="885.90" stroke="#7a7a7a" stroke-width="1.0"/>
<line x1="1428.75" y1="900.90" x2="1428.75" y2="888.90" stroke="#7a7a7a" stroke-width="1.0"/>
<line x1="1508.50" y1="900.90" x2="1508.50" y2="885.90" stroke="#7a7a7a" stroke-width="1.0"/>
<line x1="1588.25" y1="900.90" x2="1588.25" y2="888.90" stroke="#7a7a7a" stroke-width="1.0"/>
<line x1="1668.00" y1="900.90" x2="1668.00" y2="885.90" stroke="#7a7a7a" stroke-width="1.0"/>
<path d="M1054.90 884.50V677.10 M1167.00 884.50V735.60 M1278.70 884.50V816.70 M1390.40 884.50V862.60 M1503.20 884.50V880.20 M1614.20 884.50V883.30" stroke="#1414d2" stroke-width="1.6" fill="none"/>
<path d="M1054.90 673.70V642.80" stroke="#a8a8a8" stroke-width="1.1" fill="none"/>
<path d="M1050.70 647.70Q1053.43 644.98 1054.90 644.30Q1056.37 644.98 1059.10 647.70" stroke="#a8a8a8" stroke-width="1.1" fill="none"/>
<path d="M1167.00 708.90V642.80" stroke="#a8a8a8" stroke-width="1.1" fill="none"/>
<path d="M1162.80 647.70Q1165.53 644.98 1167.00 644.30Q1168.47 644.98 1171.20 647.70" stroke="#a8a8a8" stroke-width="1.1" fill="none"/>
<path d="M1278.70 784.60V642.80" stroke="#a8a8a8" stroke-width="1.1" fill="none"/>
<path d="M1274.50 647.70Q1277.23 644.98 1278.70 644.30Q1280.17 644.98 1282.90 647.70" stroke="#a8a8a8" stroke-width="1.1" fill="none"/>
<path d="M1390.40 835.10V642.80" stroke="#a8a8a8" stroke-width="1.1" fill="none"/>
<path d="M1386.20 647.70Q1388.93 644.98 1390.40 644.30Q1391.87 644.98 1394.60 647.70" stroke="#a8a8a8" stroke-width="1.1" fill="none"/>
<path d="M1503.20 845.80V642.80" stroke="#a8a8a8" stroke-width="1.1" fill="none"/>
<path d="M1499.00 647.70Q1501.73 644.98 1503.20 644.30Q1504.67 644.98 1507.40 647.70" stroke="#a8a8a8" stroke-width="1.1" fill="none"/>
<rect x="1010.60" y="642.40" width="677.00" height="258.50" fill="none" stroke="#000" stroke-width="1.4"/>
<text x="873.51" y="602.50" font-size="25.00" textLength="23.53" lengthAdjust="spacingAndGlyphs">c)</text>
<text x="967.74" y="637.50" font-size="24.00" textLength="20.80" lengthAdjust="spacingAndGlyphs">Δ</text>
<text x="991.91" y="637.50" font-size="24.00" textLength="21.67" lengthAdjust="spacingAndGlyphs" font-style="italic">M</text>
<line x1="992.20" y1="614.60" x2="1014.80" y2="614.60" stroke="#000" stroke-width="1.0"/>
<line x1="992.20" y1="618.10" x2="1014.80" y2="618.10" stroke="#000" stroke-width="1.0"/>
<text x="1016.61" y="637.50" font-size="24.00" textLength="21.09" lengthAdjust="spacingAndGlyphs"><tspan dy="1.97">=</tspan></text>
<text x="1035.78" y="637.50" font-size="24.00" textLength="23.59" lengthAdjust="spacingAndGlyphs">-2</text>
<text x="1154.83" y="632.80" font-size="21.50" textLength="22.49" lengthAdjust="spacingAndGlyphs">-1</text>
<text x="1272.12" y="632.80" font-size="21.50" textLength="13.55" lengthAdjust="spacingAndGlyphs">0</text>
<text x="1373.71" y="632.80" font-size="21.50" textLength="35.28" lengthAdjust="spacingAndGlyphs"><tspan dy="1.76">+</tspan><tspan dy="-1.76">1</tspan></text>
<text x="1485.88" y="632.80" font-size="21.50" textLength="35.87" lengthAdjust="spacingAndGlyphs"><tspan dy="1.76">+</tspan><tspan dy="-1.76">2</tspan></text>
<text x="990.53" y="929.30" font-size="25.00" textLength="78.57" lengthAdjust="spacingAndGlyphs"><tspan dy="2.05">−</tspan><tspan dy="-2.05">4240</tspan></text>
<text x="1151.13" y="929.30" font-size="25.00" textLength="78.57" lengthAdjust="spacingAndGlyphs"><tspan dy="2.05">−</tspan><tspan dy="-2.05">4230</tspan></text>
<text x="1310.73" y="929.30" font-size="25.00" textLength="78.57" lengthAdjust="spacingAndGlyphs"><tspan dy="2.05">−</tspan><tspan dy="-2.05">4220</tspan></text>
<text x="1470.83" y="929.30" font-size="25.00" textLength="78.57" lengthAdjust="spacingAndGlyphs"><tspan dy="2.05">−</tspan><tspan dy="-2.05">4210</tspan></text>
<text x="1630.13" y="929.30" font-size="25.00" textLength="78.57" lengthAdjust="spacingAndGlyphs"><tspan dy="2.05">−</tspan><tspan dy="-2.05">4200</tspan></text>
<text x="983.59" y="892.90" font-size="24.30" textLength="14.02" lengthAdjust="spacingAndGlyphs">0</text>
<text x="946.86" y="867.71" font-size="24.30" textLength="50.79" lengthAdjust="spacingAndGlyphs">0.05</text>
<text x="960.92" y="842.52" font-size="24.30" textLength="37.48" lengthAdjust="spacingAndGlyphs">0.1</text>
<text x="946.86" y="817.33" font-size="24.30" textLength="50.79" lengthAdjust="spacingAndGlyphs">0.15</text>
<text x="960.93" y="792.14" font-size="24.30" textLength="37.22" lengthAdjust="spacingAndGlyphs">0.2</text>
<text x="946.86" y="766.95" font-size="24.30" textLength="50.79" lengthAdjust="spacingAndGlyphs">0.25</text>
<text x="960.94" y="741.76" font-size="24.30" textLength="36.71" lengthAdjust="spacingAndGlyphs">0.3</text>
<text x="946.86" y="716.57" font-size="24.30" textLength="50.79" lengthAdjust="spacingAndGlyphs">0.35</text>
<text x="960.96" y="691.38" font-size="24.30" textLength="35.98" lengthAdjust="spacingAndGlyphs">0.4</text>
<text x="1198.42" y="975.40" font-size="24.80" textLength="302.18" lengthAdjust="spacingAndGlyphs">Laser detuning/2π(kHz)</text>
<circle cx="827.8" cy="993.5" r="1.2" fill="#000"/>
</svg>
</body></html>
